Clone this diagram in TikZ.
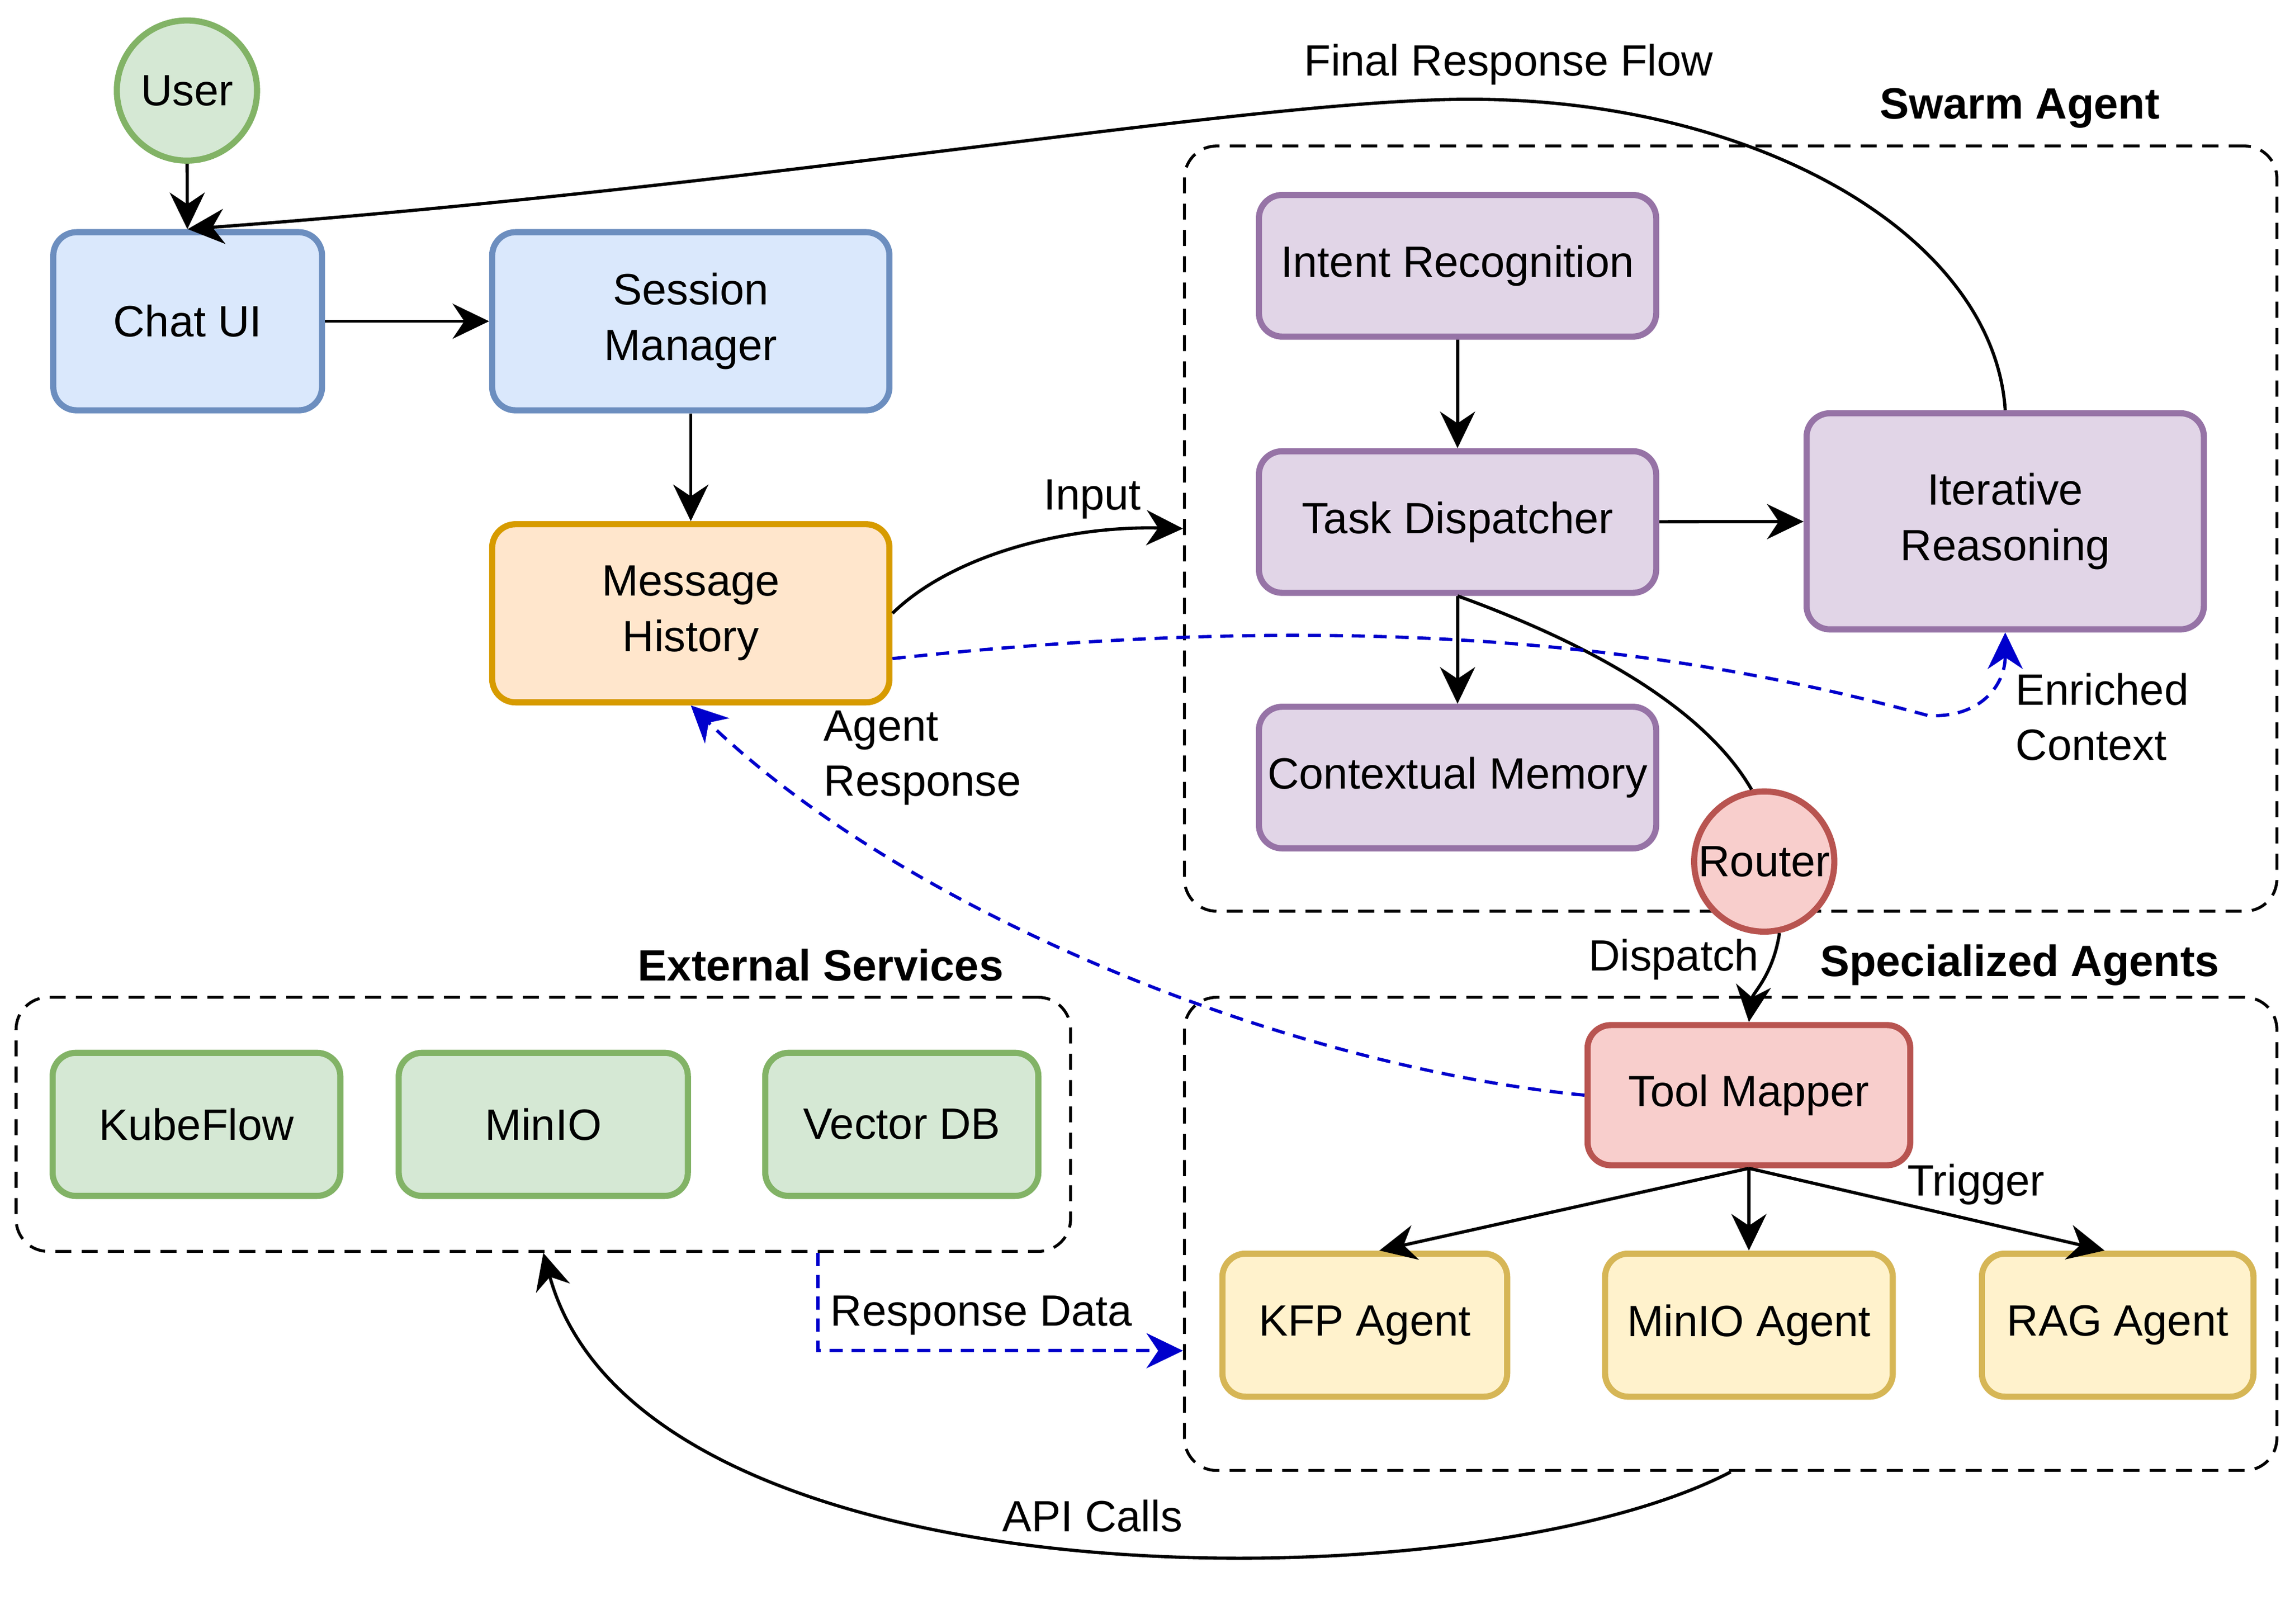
\documentclass[tikz,border=0pt]{standalone}
\usepackage{fontspec}
\setmainfont{Liberation Sans}
\usetikzlibrary{arrows.meta}
\definecolor{bluefill}{HTML}{DAE8FC}
\definecolor{bluedraw}{HTML}{6C8EBF}
\definecolor{purplefill}{HTML}{E1D5E7}
\definecolor{purpledraw}{HTML}{9673A6}
\definecolor{greenfill}{HTML}{D5E8D4}
\definecolor{greendraw}{HTML}{82B366}
\definecolor{yellowfill}{HTML}{FFF2CC}
\definecolor{yellowdraw}{HTML}{D6B656}
\definecolor{orangefill}{HTML}{FFE6CC}
\definecolor{orangedraw}{HTML}{D79B00}
\definecolor{redfill}{HTML}{F8CECC}
\definecolor{reddraw}{HTML}{B85450}
\definecolor{linkblue}{HTML}{0000CC}
\tikzset{
    bx/.style={rectangle,rounded corners=16pt,line width=4.2pt,align=center,inner sep=0pt},
    ui/.style={bx,draw=bluedraw,fill=bluefill,minimum height=122pt},
    hist/.style={bx,draw=orangedraw,fill=orangefill,minimum height=122pt},
    core/.style={bx,draw=purpledraw,fill=purplefill,minimum width=272pt,minimum height=97pt},
    svc/.style={bx,draw=greendraw,fill=greenfill,minimum height=98pt},
    agent/.style={bx,draw=yellowdraw,fill=yellowfill,minimum height=98pt},
    rnode/.style={circle,line width=4.2pt,inner sep=0pt,minimum size=96pt},
    grp/.style={draw,line width=2pt,dash pattern=on 11pt off 7pt,rounded corners=22pt},
    tt/.style={fill=none,draw=none,text=black,inner sep=0pt},
    hd/.style={tt,font=\fontsize{30}{38}\selectfont\bfseries},
    flow/.style={draw,line width=2.2pt,-{Stealth[length=25pt,width=24pt,inset=8pt]}},
    fb/.style={flow,draw=linkblue,dash pattern=on 9pt off 6pt},
}
\begin{document}
\begin{tikzpicture}[x=1pt,y=-1pt,font=\fontsize{30}{38}\selectfont,
    every edge/.style={flow}]
\useasboundingbox (0,0) rectangle (1568,1112);
% groups
\node[grp,minimum width=748pt,minimum height=524pt] (swarm) at (1185,362) {};
\node[grp,minimum width=748pt,minimum height=324pt] (spec) at (1185,845) {};
\node[grp,minimum width=722pt,minimum height=174pt] (ext) at (372,770) {};
\node[hd] (lswarm) at (1383,74) {Swarm Agent};
\node[hd] (lspec) at (1383,661) {Specialized Agents};
\node[hd] (lext) at (562,661) {External Services};

\node[rnode,draw=greendraw,fill=greenfill] (user) at (128,62) {User};
\node[ui,minimum width=184pt] (chat) at (128.5,220) {Chat UI};
\node[ui,minimum width=272pt] (session) at (473,220) {Session\\Manager};
\node[hist,minimum width=272pt] (history) at (473,420) {Message\\History};

\node[core] (intent) at (998,182) {Intent Recognition};
\node[core] (task) at (998,357.5) {Task Dispatcher};
\node[core] (memory) at (998,532.5) {Contextual Memory};
\node[core,minimum height=148pt] (iter) at (1373,357) {Iterative\\Reasoning};
\node[rnode,draw=reddraw,fill=redfill] (router) at (1208,590) {Router};

\node[bx,draw=reddraw,fill=redfill,minimum width=221pt,minimum height=96pt] (mapper) at (1197.5,750) {Tool Mapper};
\node[agent,minimum width=195pt] (kfp) at (934.5,907.5) {KFP Agent};
\node[agent,minimum width=197pt] (minioag) at (1197.5,907.5) {MinIO Agent};
\node[agent,minimum width=186pt] (rag) at (1450,907.5) {RAG Agent};

\node[svc,minimum width=197pt] (kube) at (134.5,770) {KubeFlow};
\node[svc,minimum width=198pt] (minio) at (372,770) {MinIO};
\node[svc,minimum width=187pt] (vdb) at (617.5,770) {Vector DB};

\path
    (user) edge (chat)
    (chat) edge (session)
    (session) edge (history)
    (intent) edge (task)
    (task) edge (iter)
    (task) edge (memory)
    (mapper.south) edge ([xshift=10pt]kfp.north)
    (mapper.south) edge (minioag.north)
    (mapper.south) edge ([xshift=-9pt]rag.north)
;
\draw[flow] (iter.north) .. controls (1365,160) and (1200,66) .. (1000,68)
    .. controls (850,69.5) and (520,128) .. (chat.north);
\draw[flow] (history.east) .. controls (652,380) and (730,360) .. (swarm.west);
\draw[line width=2.2pt] (task.south) .. controls (1100,445) and (1170,490) .. (router.100);
\draw[flow] (router.282) .. controls (1214,668) and (1200,680) .. (mapper.north);
\draw[fb] (mapper.west) .. controls (880,730) and (620,625) .. (history.south);
\draw[fb] ([yshift=-31pt]history.east) .. controls (900,420) and (1120,435) .. (1320,490)
    .. controls (1355,492) and (1373,470) .. (iter.south);
\draw[fb] ([xshift=188pt]ext.south) |- ([yshift=-80pt]spec.west);
\draw[flow] (spec.south) .. controls (1010,1100) and (440,1105) .. (ext.south);

\node[tt] (lflow) at (1033,44) {Final Response Flow};
\node[tt] (linput) at (748,342) {Input};
\node[tt,anchor=west,align=left] (lenrich) at (1380,491) {Enriched\\Context};
\node[tt,anchor=west,align=left] (lresp) at (564,519) {Agent\\Response};
\node[tt] (ldisp) at (1146,657) {Dispatch};
\node[tt] (ltrig) at (1353,811) {Trigger};
\node[tt] (ldata) at (672,901) {Response Data};
\node[tt] (lapi) at (748,1038) {API Calls};
\end{tikzpicture}
\end{document}
